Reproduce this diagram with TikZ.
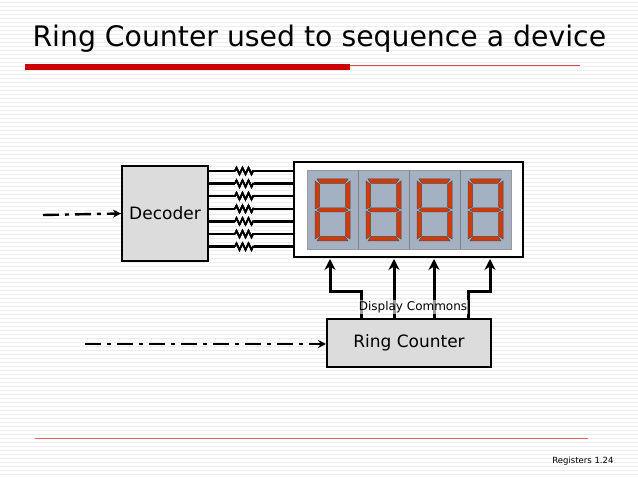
\documentclass[tikz,border=0pt]{standalone}
\usepackage{fontspec}
\setmainfont{DejaVu Sans}
\usetikzlibrary{arrows.meta,decorations.pathmorphing}
\definecolor{boxgrey}{HTML}{DCDCDC}
\definecolor{panel}{HTML}{A3B1C2}
\definecolor{seg}{HTML}{D43A08}
\definecolor{redbar}{HTML}{CC0000}
\tikzset{
  blk/.style={draw=black,line width=2pt,fill=boxgrey,inner sep=0pt},
  wire/.style={line width=2.4pt},
  arr/.style={line width=3pt,-{Stealth[length=11pt,width=11pt]}},
  ddarr/.style={line width=2.4pt,dash pattern=on 16pt off 6pt on 4pt off 6pt,-{Stealth[length=8pt,width=8pt]}},
  res/.style={line width=1.6pt,decorate,decoration={zigzag,segment length=6pt,amplitude=3.2pt}},
  segm/.style={fill=seg,draw=black!70,line width=0.5pt}
}
\newcommand{\digit}[2]{% x y of top-left
  \begin{scope}[shift={(#1,#2)}]
    \filldraw[segm] (3,0) -- (34,0) -- (31,4.5) -- (6,4.5) -- cycle;
    \filldraw[segm] (3,31) -- (6,29) -- (31,29) -- (34,31) -- (31,33) -- (6,33) -- cycle;
    \filldraw[segm] (3,62) -- (34,62) -- (31,57.5) -- (6,57.5) -- cycle;
    \filldraw[segm] (1,2) -- (5.5,5.5) -- (5.5,28) -- (1,30) -- cycle;
    \filldraw[segm] (36,2) -- (31.5,5.5) -- (31.5,28) -- (36,30) -- cycle;
    \filldraw[segm] (1,32) -- (5.5,34) -- (5.5,57) -- (1,60) -- cycle;
    \filldraw[segm] (36,32) -- (31.5,34) -- (31.5,57) -- (36,60) -- cycle;
  \end{scope}}
\begin{document}
\begin{tikzpicture}[x=1pt,y=-1pt]
\useasboundingbox (0,0) rectangle (638,478);
\fill[white] (0,0) rectangle (638,478);
\foreach \y in {2,6,...,478} \draw[black!7,line width=0.6pt] (0,\y) -- (638,\y);
\node[anchor=west,font=\fontsize{28.3}{32}\selectfont] (title) at (29,39) {Ring Counter used to sequence a device};
\fill[redbar] (25,64) rectangle (350,70);
\draw[redbar!70,line width=0.6pt] (350,65) -- (580,65);
\draw[redbar!60,line width=0.6pt] (35,438) -- (588,438);
\node[anchor=east,font=\fontsize{8.5}{9}\selectfont] (pg) at (617,461) {Registers 1.24};
% decoder
\node[blk,minimum width=86pt,minimum height=95pt,font=\fontsize{17}{19}\selectfont] (dec) at (165,213.5) {Decoder};
\coordinate (din) at (43,215);
\draw[ddarr] (din) -- (dec.west);
% display
\node[draw=black,line width=2.4pt,fill=white,minimum width=229pt,minimum height=95pt,inner sep=0pt] (disp) at (408.5,209.5) {};
\node[fill=panel,draw=black!40,minimum width=204pt,minimum height=79pt,inner sep=0pt] (pan) at (409,209.5) {};
\foreach \x in {358,409,460} \draw[black!50,line width=0.8pt] (\x,170) -- (\x,249);
\foreach \x in {314,365,416,467} \digit{\x}{179}
% wires
\foreach \i in {0,...,6} {
  \pgfmathsetmacro{\yy}{171+12.6*\i}
  \coordinate (wa\i) at (dec.east |- 0,\yy);
  \coordinate (wb\i) at (disp.west |- 0,\yy);
  \draw[wire] (wa\i) -- (235,\yy);
  \draw[res] (235,\yy) -- (254,\yy);
  \draw[wire] (254,\yy) -- (wb\i);
}
% ring counter
\node[blk,minimum width=164pt,minimum height=48pt,font=\fontsize{17}{19}\selectfont] (rc) at (409,343) {Ring Counter};
\coordinate (rin) at (85,344);
\draw[ddarr] (rin) -- (rc.west |- rin);
\draw[arr] (rc.north -| 361,0) -- (361,292) -- (330,292) -- (330,259);
\draw[arr] (rc.north -| 394,0) -- (394,259);
\draw[arr] (rc.north -| 434,0) -- (434,259);
\draw[arr] (rc.north -| 468,0) -- (468,292) -- (490,292) -- (490,259);
\node[fill=white,fill opacity=0.6,text opacity=1,inner sep=1pt,font=\fontsize{12}{14}\selectfont] (dc) at (413,307) {Display Commons};
\end{tikzpicture}
\end{document}
